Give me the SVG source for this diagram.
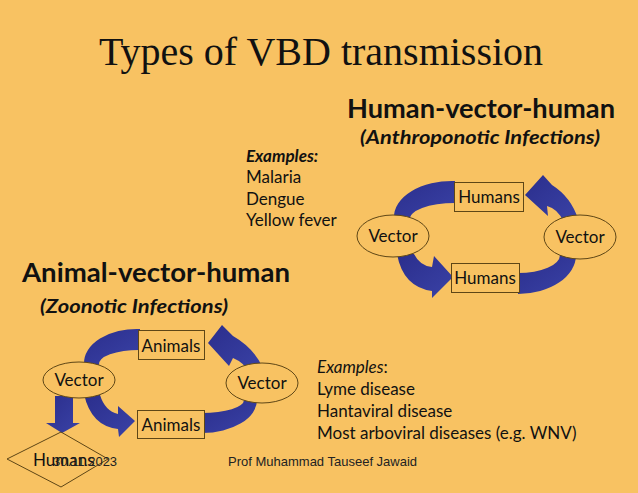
<svg xmlns="http://www.w3.org/2000/svg" width="638" height="493" viewBox="0 0 638 493">
<defs>
<linearGradient id="ag" x1="0" y1="0" x2="1" y2="1">
<stop offset="0" stop-color="#2B2E8C"/>
<stop offset="1" stop-color="#3A42A6"/>
</linearGradient>
</defs>
<style>
.bg{fill:#F8C262}
.arr{fill:url(#ag)}
.box{fill:#F8C262;stroke:#5E4616;stroke-width:1}
.lbl{font-family:Lato,"Open Sans",sans-serif;font-size:17px;fill:#111;text-anchor:middle}
.hd{font-family:Lato,"Open Sans",sans-serif;font-weight:bold;font-size:27px;fill:#111}
.sub{font-family:Lato,"Open Sans",sans-serif;font-weight:bold;font-style:italic;font-size:19px;fill:#111}
.ex{font-family:Lato,"Open Sans",sans-serif;font-size:17px;fill:#111}
.ft{font-family:"Liberation Sans",Arial,sans-serif;font-size:13px;fill:#222}
</style>
<rect class="bg" x="0" y="0" width="638" height="493"/>
<text x="321" y="65" font-family="Liberation Serif,serif" font-size="40" fill="#111" text-anchor="middle">Types of VBD transmission</text>

<g id="title-hvh">
<text class="hd" x="347" y="118" textLength="268" lengthAdjust="spacingAndGlyphs">Human-vector-human</text>
<text class="sub" x="360" y="144" textLength="240" lengthAdjust="spacingAndGlyphs">(Anthroponotic Infections)</text>
</g>
<g id="examples-hvh">
<text class="ex" x="246" y="162" font-weight="bold" font-style="italic" font-size="16">Examples:</text>
<text class="ex" x="246" y="183">Malaria</text>
<text class="ex" x="246" y="205">Dengue</text>
<text class="ex" x="246" y="226">Yellow fever</text>
</g>
<g id="title-avh">
<text class="hd" x="22" y="282" textLength="268" lengthAdjust="spacingAndGlyphs">Animal-vector-human</text>
<text class="sub" x="40" y="313" textLength="188" lengthAdjust="spacingAndGlyphs">(Zoonotic Infections)</text>
</g>
<g id="examples-avh">
<text class="ex" x="317" y="373"><tspan font-style="italic">Examples</tspan>:</text>
<text class="ex" x="317" y="395">Lyme disease</text>
<text class="ex" x="317" y="417">Hantaviral disease</text>
<text class="ex" x="317" y="439">Most arboviral diseases (e.g. WNV)</text>
</g>

<g id="connectors">
<path class="arr" d="M394,218 A58,36 0 0 1 455,181 L455,203 A45,16 0 0 0 410,220 Z"/>
<path class="arr" d="M397,254 Q403,287 432,291 L432,298 L453,277 L434,256 L432,267 Q420,266 414,254 Z"/>
<path class="arr" d="M518,294 A58,39 0 0 0 576,255 L560,255 A42,18 0 0 1 518,273 Z"/>
<path class="arr" d="M563,221 Q558,209 547,206 L548,216 L525,195 L543,175 L552,185 Q571,197 578,219 Z"/>

<path class="arr" d="M84,364 A53,34 0 0 1 140,329 L140,350 A40,14 0 0 0 99,365 Z"/>
<path class="arr" d="M84,394 Q91,426 118,429 L119,437 L135,421 L118,406 L118,414 Q105,411 100,395 Z"/>
<path class="arr" d="M202,433 A55,33 0 0 0 257,400 L244,400 A42,13 0 0 1 202,413 Z"/>
<path class="arr" d="M249,373 Q245,363 233,358 L229,366 L208,343 L222,325 L233,336 Q254,348 263,368 Z"/>
<path class="arr" d="M55,396 L73,396 L73,423 L80,423 L62,433 L46,423 L55,423 Z"/>
</g>

<g id="vector-hvh-left"><ellipse class="box" cx="393" cy="236" rx="36" ry="21"/><text class="lbl" x="393" y="242">Vector</text></g>
<g id="vector-hvh-right"><ellipse class="box" cx="580" cy="237" rx="36" ry="22"/><text class="lbl" x="580" y="243">Vector</text></g>
<g id="humans-top"><rect class="box" x="454.5" y="182.5" width="69" height="29"/><text class="lbl" x="489" y="203">Humans</text></g>
<g id="humans-bottom"><rect class="box" x="451.5" y="263.5" width="68" height="29"/><text class="lbl" x="485" y="284">Humans</text></g>

<g id="vector-avh-left"><ellipse class="box" cx="79" cy="380" rx="36" ry="18"/><text class="lbl" x="79" y="386">Vector</text></g>
<g id="vector-avh-right"><ellipse class="box" cx="262" cy="383" rx="36" ry="20"/><text class="lbl" x="262" y="389">Vector</text></g>
<g id="animals-top"><rect class="box" x="138.5" y="330.5" width="66" height="29"/><text class="lbl" x="171" y="352">Animals</text></g>
<g id="animals-bottom"><rect class="box" x="137.5" y="410.5" width="67" height="28"/><text class="lbl" x="171" y="431">Animals</text></g>
<g id="humans-diamond"><path d="M7,459 L61,432 L108,459 L61,487 Z" fill="none" stroke="#5E4616" stroke-width="1"/><text class="ex" x="33" y="466" font-size="17">Humans</text></g>

<g id="footer">
<text class="ft" x="53" y="466">30.11.2023</text>
<text class="ft" x="228" y="466">Prof Muhammad Tauseef Jawaid</text>
</g>
</svg>
